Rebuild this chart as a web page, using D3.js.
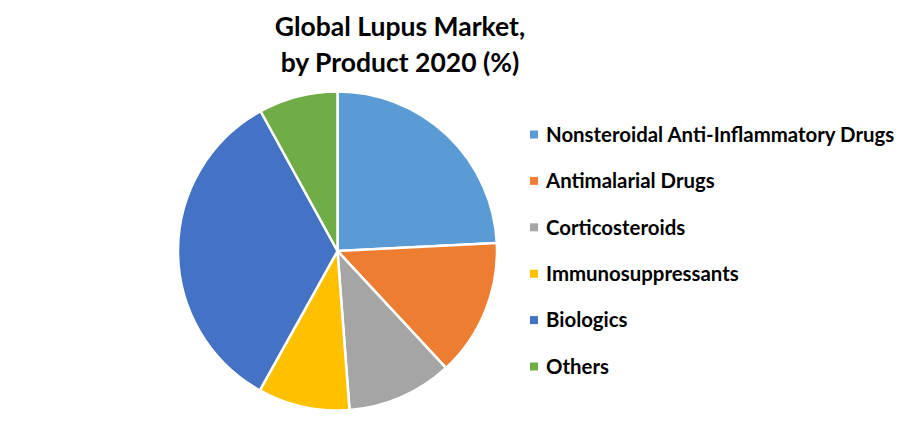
<!DOCTYPE html>
<html><head><meta charset="utf-8">
<script src="https://cdn.jsdelivr.net/npm/d3@7"></script>
<style>body{margin:0;background:#fff}svg{display:block}</style>
</head><body>
<svg id="c" width="900" height="435"></svg>
<script>
const categories = ["Nonsteroidal Anti-Inflammatory Drugs","Antimalarial Drugs","Corticosteroids","Immunosuppressants","Biologics","Others"];
const values = [24.2, 13.9, 10.7, 9.3, 33.9, 8.0];
const colors = ["#5B9BD5","#ED7D31","#A5A5A5","#FFC000","#4472C4","#70AD47"];
const titleLines = ["Global Lupus Market,","by Product 2020 (%)"];

const svg = d3.select("#c");
const font = "Lato, 'Open Sans', sans-serif";
const cx = 337.5, cy = 251, r = 159.5;

const pie = d3.pie().sort(null).value(d => d)(values);
const arc = d3.arc().innerRadius(0).outerRadius(r);
const g = svg.append("g").attr("transform", `translate(${cx},${cy})`);
g.selectAll("path").data(pie).join("path")
  .attr("d", arc)
  .attr("fill", (d,i) => colors[i])
  .attr("stroke", "#fff").attr("stroke-width", 2.5).attr("stroke-linejoin","round");

svg.selectAll("text.title").data(titleLines).join("text")
  .attr("class","title")
  .attr("x", 400).attr("y", (d,i) => 36 + i*36)
  .attr("text-anchor","middle")
  .attr("font-family", font).attr("font-weight","bold").attr("font-size", 26.5)
  .attr("fill","#000").text(d => d);

const y = d3.scalePoint().domain(categories).range([134.5, 366.5]);
const leg = svg.append("g");
const item = leg.selectAll("g").data(categories).join("g")
  .attr("transform", d => `translate(530,${y(d)})`);
item.append("rect").attr("x",0).attr("y",-4).attr("width",8).attr("height",8)
  .attr("fill", (d,i) => colors[i]);
item.append("text").attr("x",16).attr("y",0).attr("dy","0.36em")
  .attr("font-family", font).attr("font-weight","bold").attr("font-size", 20.4)
  .attr("fill","#000").text(d => d);
</script>
</body></html>
